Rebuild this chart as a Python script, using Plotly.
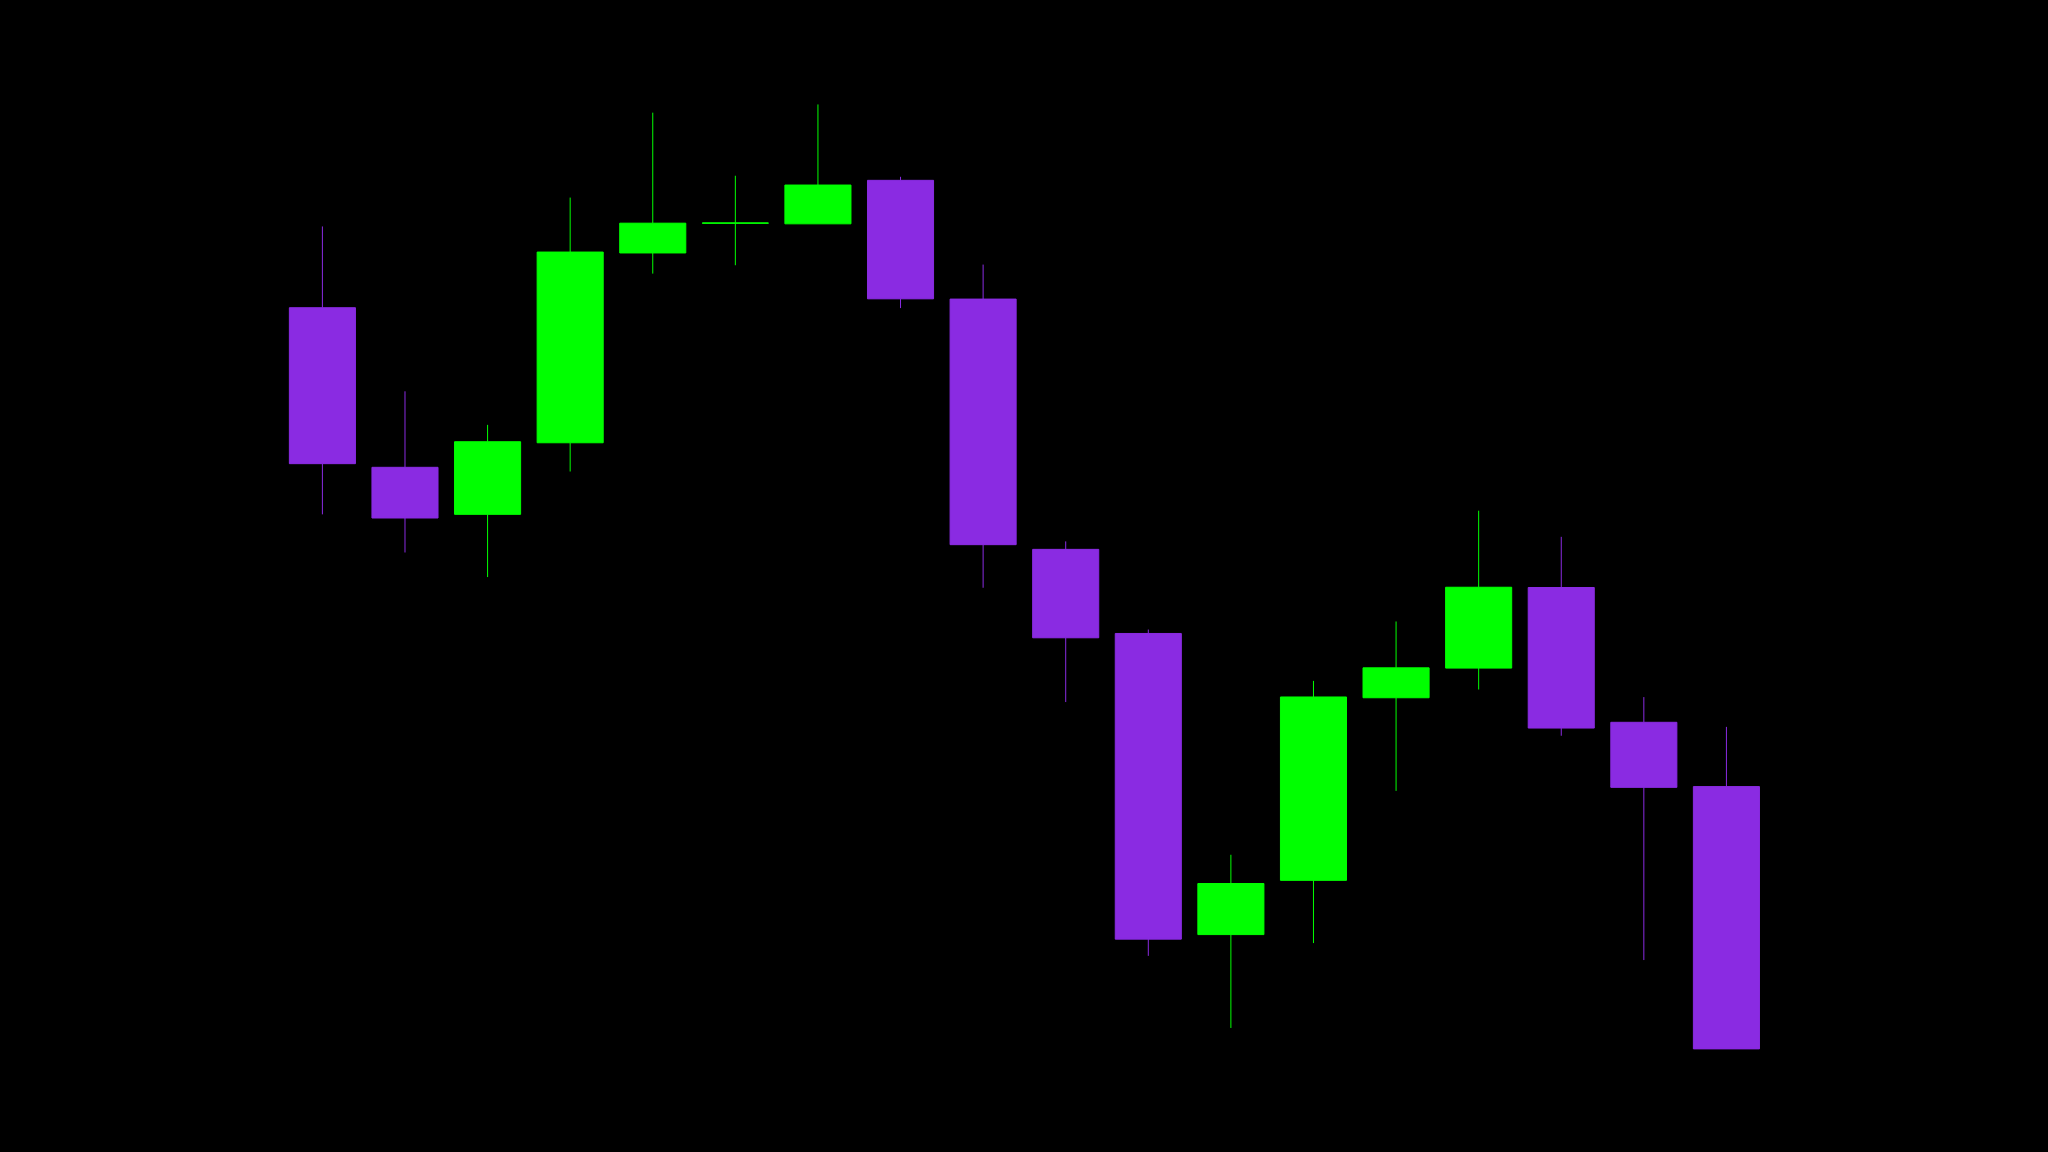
import plotly.graph_objects as go

# OHLC values (18 sessions)
sessions = list(range(18))
opens = [121.44, 109.22, 105.62, 111.10, 125.63, 127.91, 127.86, 131.19, 122.10,
         102.94, 96.50, 73.45, 77.60, 91.58, 93.85, 100.02, 89.70, 84.78]
highs = [127.66, 115.04, 112.47, 129.87, 136.37, 131.54, 137.00, 131.46, 124.74,
         103.55, 96.80, 79.56, 92.87, 97.42, 105.90, 103.90, 91.63, 89.35]
lows = [105.62, 102.70, 100.82, 108.90, 124.05, 124.69, 127.86, 121.41, 100.00,
        91.25, 71.82, 66.30, 72.80, 84.45, 92.21, 88.67, 71.50, 64.70]
closes = [109.50, 105.34, 111.18, 125.70, 127.91, 127.92, 130.83, 122.12, 103.30,
          96.17, 73.10, 77.36, 91.64, 93.87, 100.04, 89.26, 84.72, 64.70]

UP = "#00FF00"
DOWN = "#8A2BE2"

fig = go.Figure()

fig.add_trace(go.Candlestick(
    x=sessions, open=opens, high=highs, low=lows, close=closes,
    increasing=dict(fillcolor=UP, line=dict(color=UP, width=1)),
    decreasing=dict(fillcolor=DOWN, line=dict(color=DOWN, width=1)),
    showlegend=False,
))

fig.update_layout(
    paper_bgcolor="black",
    plot_bgcolor="black",
    boxgap=0.2,
    boxgroupgap=0,
    margin=dict(l=80, r=80, t=100, b=80),
    xaxis=dict(visible=False, range=[-2.935, 19.925], rangeslider=dict(visible=False)),
    yaxis=dict(visible=False, range=[62.93, 137.34]),
)

# page fully black, figure filling the window
fix_page = (
    "document.body.style.margin='0';"
    "document.body.style.background='black';"
    "document.documentElement.style.height='100%';"
    "document.body.style.height='100%';"
    "var gd=document.getElementById('{plot_id}');"
    "gd.style.height='100vh';gd.style.width='100vw';"
    "Plotly.Plots.resize(gd);"
)
fig.write_html("out.html", post_script=fix_page, config={"displayModeBar": False})
